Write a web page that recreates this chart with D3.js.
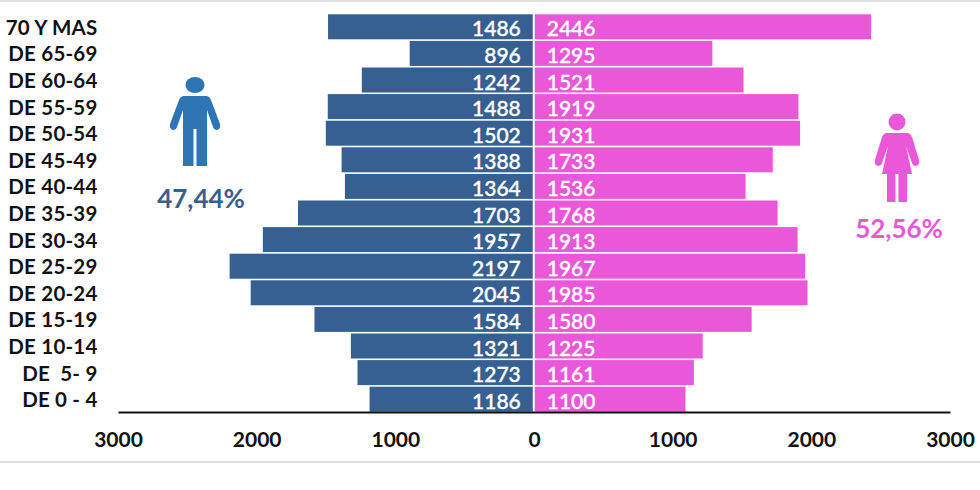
<!DOCTYPE html>
<html><head><meta charset="utf-8">
<script src="https://cdn.jsdelivr.net/npm/d3@7/dist/d3.min.js"></script>
<style>
html,body{margin:0;padding:0;background:#fff}
svg{display:block}
text{font-family:Lato,"Open Sans",sans-serif}
</style></head><body><svg id="c" width="980" height="490"></svg>
<script>
const ageGroups=["70 Y MAS","DE 65-69","DE 60-64","DE 55-59","DE 50-54","DE 45-49","DE 40-44","DE 35-39","DE 30-34","DE 25-29","DE 20-24","DE 15-19","DE 10-14","DE  5- 9","DE 0 - 4"];
const men=[1486,896,1242,1488,1502,1388,1364,1703,1957,2197,2045,1584,1321,1273,1186];
const women=[2446,1295,1521,1919,1931,1733,1536,1768,1913,1967,1985,1580,1225,1161,1100];
const axisTicks=[-3000,-2000,-1000,0,1000,2000,3000];
const menShare="47,44%", womenShare="52,56%";
const BLUE="#376092", PINK="#ea57d8", ICONBLUE="#2e75b6";

const svg=d3.select("#c");
const xAxisScale=d3.scaleLinear().domain([-3000,3000]).range([118,950]);
const xLeft=d3.scaleLinear().domain([-3000,0]).range([118.5,533.7]);
const x=d3.scaleLinear().domain([-3000,3000]).range([120,947.5]);
const y=d3.scaleBand().domain(ageGroups).range([13.5,412.5]).paddingInner(0.06).paddingOuter(0.03);
const x0=x(0);

svg.append("rect").attr("x",0).attr("y",0).attr("width",980).attr("height",2).attr("fill","#dedede");
svg.append("rect").attr("x",0).attr("y",461).attr("width",980).attr("height",2).attr("fill","#dedede");

svg.append("g").selectAll("rect").data(ageGroups).join("rect")
  .attr("x",(d,i)=>xLeft(-men[i])).attr("y",d=>y(d))
  .attr("width",(d,i)=>x0-1-xLeft(-men[i])).attr("height",y.bandwidth()).attr("fill",BLUE);
svg.append("g").selectAll("rect").data(ageGroups).join("rect")
  .attr("x",x0+1).attr("y",d=>y(d))
  .attr("width",(d,i)=>x(women[i])-x0-1).attr("height",y.bandwidth()).attr("fill",PINK);

const valueStyle=s=>s.attr("fill","#fff").attr("stroke","#fff").attr("stroke-width",0.35).attr("font-size",21).attr("font-weight",500).attr("dominant-baseline","central");
svg.append("g").selectAll("text").data(ageGroups).join("text")
  .attr("x",x0-13).attr("y",d=>y(d)+y.bandwidth()/2+1).attr("text-anchor","end")
  .text((d,i)=>men[i]).call(valueStyle);
svg.append("g").selectAll("text").data(ageGroups).join("text")
  .attr("x",x0+13).attr("y",d=>y(d)+y.bandwidth()/2+1).attr("text-anchor","start")
  .text((d,i)=>women[i]).call(valueStyle);

svg.append("g").selectAll("text").data(ageGroups).join("text")
  .attr("x",97.5).attr("y",d=>y(d)+y.bandwidth()/2).attr("text-anchor","end")
  .attr("dominant-baseline","central").attr("font-size",20.5).attr("font-weight",700).attr("letter-spacing",0.2).attr("fill","#111")
  .style("white-space","pre").text(d=>d);

const ax=svg.append("g").attr("transform","translate(0,412)")
  .call(d3.axisBottom(xAxisScale).tickValues(axisTicks).tickSize(0).tickPadding(20).tickFormat(d=>Math.abs(d)));
ax.select(".domain").attr("stroke","#111").attr("stroke-width",2);
ax.selectAll("text").attr("font-size",21).attr("font-weight",700).attr("fill","#111").style("font-family","Lato,'Open Sans',sans-serif");

svg.append("text").attr("x",201).attr("y",198).attr("text-anchor","middle").attr("dominant-baseline","central")
  .attr("font-size",26).attr("font-weight",700).attr("fill",BLUE).text(menShare);
svg.append("text").attr("x",899).attr("y",228).attr("text-anchor","middle").attr("dominant-baseline","central")
  .attr("font-size",26).attr("font-weight",700).attr("fill",PINK).text(womenShare);

const man=svg.append("g").attr("transform","translate(195,0)").attr("fill",ICONBLUE);
man.append("ellipse").attr("cx",0).attr("cy",85).attr("rx",9.5).attr("ry",8);
man.append("path").attr("d","M-12,96 Q-15,97 -16,100 L-25,124 Q-26,129 -22,130 Q-19,130 -18,127 L-12,110 L-12,166 L-1.5,166 L-1.5,129 L1.5,129 L1.5,166 L12,166 L12,110 L18,127 Q19,130 22,130 Q26,129 25,124 L16,100 Q15,97 12,96 Z");
const woman=svg.append("g").attr("transform","translate(897,0)").attr("fill",PINK);
woman.append("circle").attr("cx",0).attr("cy",122).attr("r",8.5);
woman.append("path").attr("d","M-11,133 Q-14,134 -15,137 L-22,160 Q-23,165 -19,166 Q-16,166 -15,163 L-9,146 L-15,174 L-10,174 L-10,202 L-1.5,202 L-1.5,174 L1.5,174 L1.5,202 L10,202 L10,174 L15,174 L9,146 L15,163 Q16,166 19,166 Q23,165 22,160 L15,137 Q14,134 11,133 Z");
</script></body></html>
